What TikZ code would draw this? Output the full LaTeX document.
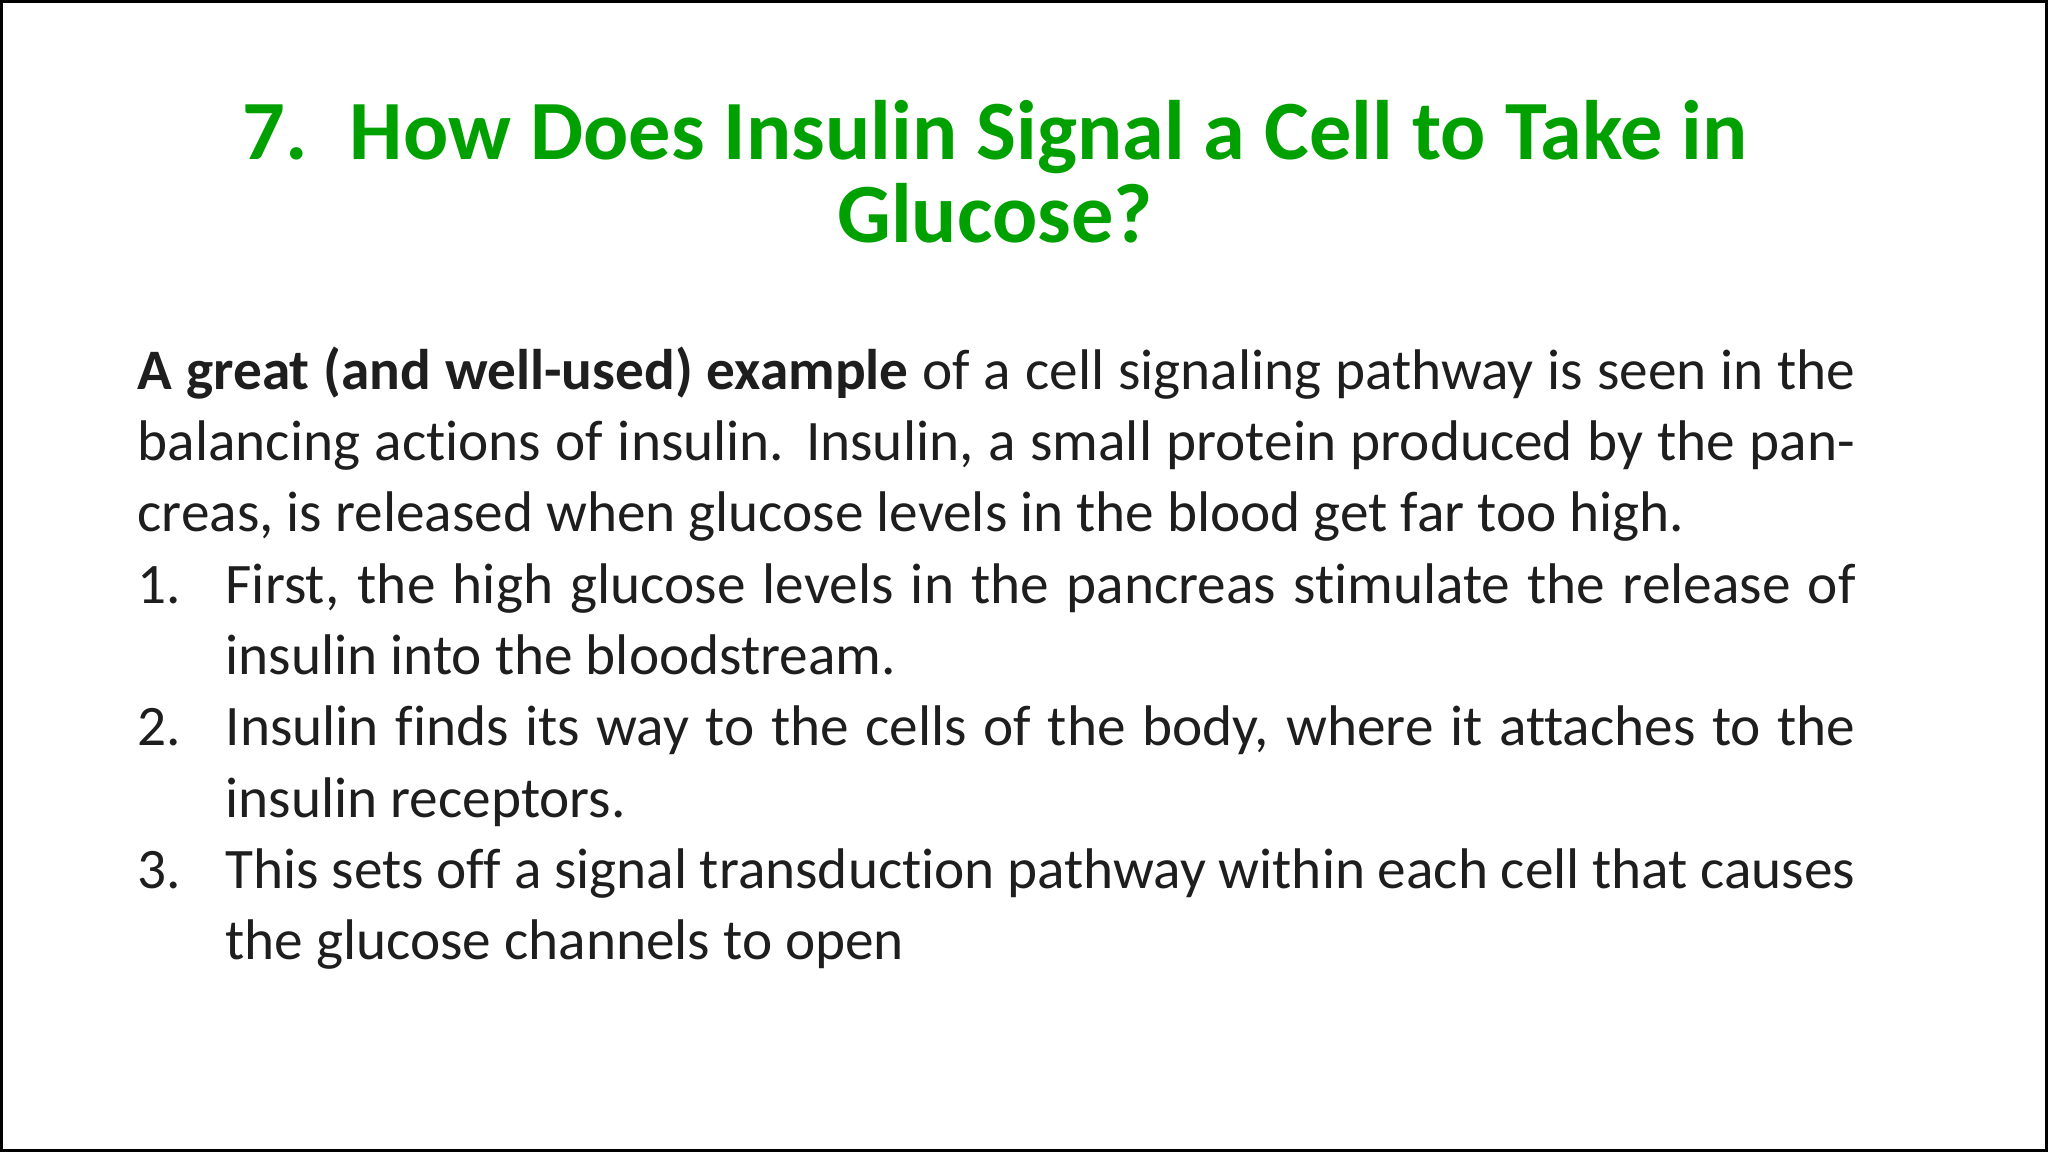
\documentclass[tikz,border=0pt]{standalone}
\usepackage{fontspec}
\setmainfont[Ligatures=NoCommon]{Carlito}
\definecolor{titlegreen}{RGB}{0,160,0}
\definecolor{bodytext}{RGB}{30,30,30}
\begin{document}
\begin{tikzpicture}
\useasboundingbox (0,0) rectangle (20.48,11.52);
\draw[line width=0.03cm] (0.015,0.015) rectangle (20.465,11.505);
\node[name=title, anchor=north, align=center, text=titlegreen, font=\fontsize{24}{23.5}\selectfont\bfseries, inner sep=0pt] at (9.95,10.52)
 {7.\enspace How Does Insulin Signal a Cell to Take in\\Glucose?};
\node[name=body, anchor=north west, inner sep=0pt, text width=17.18cm, align=justify, text=bodytext, font=\fontsize{16.3}{20.3}\selectfont] at (1.37,8.06) {%
\textbf{A great (and well-used) example} of a cell signaling pathway is seen in the balancing actions of insulin. Insulin, a small protein produced by the pancreas, is released when glucose levels in the blood get far too high.
\begin{list}{}{\leftmargin=0.88cm\labelwidth=0.88cm\labelsep=0pt\itemsep=0pt\parsep=0pt\topsep=0pt\partopsep=0pt}
\item[1.\hfill] First, the high glucose levels in the pancreas stimulate the release of insulin into the bloodstream.
\item[2.\hfill] Insulin finds its way to the cells of the body, where it attaches to the insulin receptors.
\item[3.\hfill] This sets off a signal transduction pathway within each cell that causes the glucose channels to open
\end{list}};
\end{tikzpicture}
\end{document}
